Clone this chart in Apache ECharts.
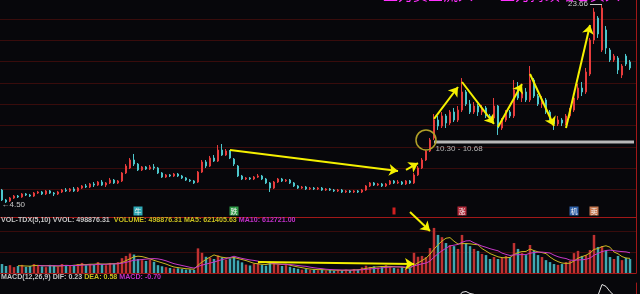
<!DOCTYPE html>
<html><head><meta charset="utf-8">
<script src="https://cdn.jsdelivr.net/npm/echarts@6/dist/echarts.min.js"></script>
<style>html,body{margin:0;padding:0;background:#07070b;overflow:hidden}#c{width:640px;height:294px}</style>
</head><body><div id="c"></div>
<script>
// ---- data ----
const categories = Array.from({length: 159}, (_, i) => 'D' + (i + 1));
// [open, close, low, high]
const candles = [
[5.75,4.79,4.69,5.85],[4.79,4.60,4.50,4.89],[4.69,4.98,4.60,5.08],[4.98,5.17,4.89,5.27],[5.17,5.08,4.98,5.27],
[5.08,5.37,5.00,5.46],[5.37,5.27,5.17,5.46],[5.27,5.17,5.08,5.37],[5.17,5.46,5.08,5.56],[5.46,5.56,5.37,5.66],
[5.56,5.37,5.27,5.66],[5.37,5.66,5.27,5.75],[5.66,5.46,5.37,5.75],[5.46,5.37,5.17,5.56],[5.37,5.56,5.27,5.66],
[5.56,5.75,5.46,5.85],[5.75,5.66,5.56,5.94],[5.66,5.85,5.56,5.94],[5.85,5.66,5.56,6.04],[5.66,5.94,5.56,6.04],
[5.94,6.14,5.85,6.23],[6.14,6.04,5.94,6.33],[6.04,6.33,5.94,6.43],[6.33,6.23,6.04,6.52],[6.23,6.52,6.14,6.62],
[6.52,6.23,6.14,6.71],[6.23,6.43,6.04,6.52],[6.43,6.71,6.33,6.91],[6.71,6.43,6.33,6.81],[6.43,6.62,6.33,6.71],
[6.62,7.39,6.52,7.48],[7.39,8.06,7.29,8.25],[7.87,8.64,7.77,8.83],[8.64,8.25,8.06,9.22],[8.25,7.68,7.58,8.35],
[7.68,7.97,7.58,8.06],[7.97,7.77,7.68,8.06],[7.77,7.97,7.68,8.16],[7.97,7.87,7.68,8.25],[7.87,7.39,7.29,7.97],
[7.39,7.00,6.91,7.48],[7.00,7.20,6.91,7.29],[7.20,7.10,7.00,7.29],[7.10,7.29,7.00,7.39],[7.29,7.10,7.00,7.39],
[7.10,6.91,6.81,7.20],[6.91,6.71,6.62,7.00],[6.71,6.62,6.52,6.81],[6.62,6.43,6.33,6.71],[6.52,7.48,6.43,7.58],
[7.48,8.45,7.39,8.64],[8.45,8.06,7.87,8.64],[8.06,8.83,7.97,9.03],[8.83,8.54,8.45,9.12],[8.54,9.60,8.45,10.08],
[9.60,9.12,9.03,10.18],[9.12,9.51,9.03,9.70],[9.51,8.83,8.73,9.60],[8.73,8.25,8.06,8.83],[8.06,7.10,7.00,8.16],
[7.10,6.81,6.71,7.20],[6.81,6.91,6.71,7.00],[6.91,6.81,6.71,7.00],[6.81,7.00,6.71,7.10],[7.00,7.10,6.91,7.29],
[7.10,6.81,6.71,7.20],[6.81,6.43,6.33,6.91],[6.43,5.94,5.56,6.52],[5.94,6.52,5.85,6.62],[6.52,6.81,6.43,6.91],
[6.81,6.62,6.52,6.91],[6.62,6.71,6.52,6.81],[6.71,6.43,6.33,6.81],[6.43,6.14,6.04,6.52],[6.14,5.94,5.85,6.23],
[5.94,6.04,5.85,6.14],[6.04,5.85,5.75,6.14],[5.85,5.94,5.75,6.04],[5.94,5.85,5.75,6.04],[5.85,5.94,5.75,6.04],
[5.94,5.75,5.66,6.04],[5.75,5.85,5.66,5.94],[5.85,5.75,5.66,5.94],[5.75,5.66,5.56,5.85],[5.66,5.75,5.56,5.85],
[5.75,5.56,5.46,5.85],[5.56,5.66,5.46,5.75],[5.66,5.56,5.46,5.75],[5.56,5.66,5.46,5.75],[5.66,5.56,5.46,5.75],
[5.56,5.75,5.46,5.85],[5.75,6.14,5.66,6.23],[6.14,6.43,6.04,6.52],[6.43,6.23,6.14,6.52],[6.23,6.33,6.14,6.43],
[6.33,6.14,6.04,6.43],[6.14,6.33,6.04,6.43],[6.33,6.62,6.23,6.71],[6.62,6.43,6.33,6.71],[6.43,6.52,6.33,6.71],
[6.52,6.33,6.23,6.62],[6.33,6.62,6.23,6.71],[6.62,6.43,6.33,6.71],[6.43,7.20,6.33,7.39],[7.20,7.87,7.10,8.06],
[7.87,8.64,7.77,8.83],[8.64,9.51,8.54,9.60],[9.51,10.57,9.41,10.76],[10.76,12.49,10.57,13.07],[12.49,11.91,11.53,12.88],
[11.91,12.88,11.72,13.26],[12.88,12.20,11.72,13.07],[12.20,13.26,12.01,13.45],[13.26,12.49,12.30,13.65],[12.49,13.45,12.30,13.84],
[13.45,15.19,13.26,16.53],[15.19,14.03,13.84,15.38],[14.03,13.26,13.07,14.42],[13.26,13.84,13.07,14.22],[13.84,13.26,12.88,14.03],
[13.26,13.65,12.97,13.94],[13.65,12.88,12.68,13.84],[12.88,12.49,12.30,13.07],[12.68,13.84,12.49,14.61],[13.84,11.72,11.05,13.94],
[11.72,12.49,11.53,12.68],[12.49,13.26,12.30,13.45],[13.26,12.88,12.68,13.45],[12.88,15.38,12.68,16.34],[15.38,14.61,14.42,16.15],
[14.61,15.19,14.22,15.76],[15.19,14.42,14.22,15.57],[14.42,16.34,14.22,17.69],[16.34,14.80,14.61,16.53],[14.80,14.03,13.84,15.00],
[14.03,14.42,13.65,14.80],[14.42,13.26,13.07,14.61],[13.26,12.49,12.30,13.45],[12.49,12.11,11.53,12.68],[12.11,12.49,11.91,12.88],
[12.49,12.20,11.91,12.68],[12.20,12.88,12.01,13.07],[12.88,13.45,12.68,13.65],[13.45,14.61,13.26,14.80],[14.61,15.57,14.42,15.96],
[15.57,15.19,14.80,16.15],[15.19,17.11,15.00,17.50],[16.92,20.19,16.73,20.39],[20.19,22.89,19.81,23.27],[22.31,20.77,20.39,22.50],
[19.23,23.27,19.04,23.66],[21.16,19.42,18.85,21.54],[19.23,18.27,18.08,19.42],[18.27,18.65,18.08,18.85],[18.46,17.31,16.92,18.65],
[16.82,17.69,16.53,17.88],[18.65,17.88,17.69,18.85],[18.08,17.50,17.31,18.27]
];
// volume in 10k shares
const volumes = [
32,25,28,21,25,29,22,25,32,28,24,21,29,26,22,32,28,25,29,32,36,28,32,29,39,32,28,36,32,39,
53,61,70,66,
50,46,43,47,40,
28,24,21,18,16,17,14,12,13,11,
88,72,58,55,50,63,56,48,52,57,
45,38,30,27,33,36,29,26,40,34,30,25,28,22,
18,15,12,14,11,13,10,12,9,11,8,10,9,12,10,14,12,20,26,22,24,19,25,28,22,18,16,21,14,17,
72,58,61,57,89,
161,136,128,107,100,96,86,136,107,96,86,79,68,64,50,57,50,54,61,57,107,86,71,64,100,79,64,57,46,39,
32,29,32,39,43,71,79,61,64,82,136,93,96,79,57,50,61,46,54,49.89
];
const priceMarks = { high: 23.66, low: 4.50, bandLow: 10.30, bandHigh: 10.68 };
const volLegend = { vvol: '498876.31', volume: '498876.31', ma5: '621405.63', ma10: '612721.00' };
const macdLegend = { dif: '0.23', dea: '0.58', macd: '-0.70' };
const headline = ['主力资金流入', '主力持续增仓买入'];
const eventIcons = [
  {i: 33.5, text: '牛', color: '#2ea8b6'},
  {i: 58.25, text: '跌', color: '#2f9c48'},
  {i: 115, text: '涨', color: '#b22a3a'},
  {i: 142.5, text: '机', color: '#3062aa'},
  {i: 147.75, text: '卖', color: '#c87a52'}
];

// ---- derived ----
const UP = '#e83c3c', DOWN = '#4cc6cc', RED = '#a01818', GRIDC = '#380c0c';
const volData = volumes.map((v, i) => ({value: v, itemStyle: {color: candles[i][1] >= candles[i][0] ? '#c03232' : '#3fa8b2'}}));
function ma(arr, n) { return arr.map((v, i) => i < n - 1 ? null : +(arr.slice(i - n + 1, i + 1).reduce((a, b) => a + b, 0) / n).toFixed(2)); }
function ema(arr, n) { const k = 2 / (n + 1); let p = arr[0]; return arr.map((v, i) => (p = i === 0 ? v : v * k + p * (1 - k))); }
const closes = candles.map(c => c[1]);
const e12 = ema(closes, 12), e26 = ema(closes, 26);
const dif = e12.map((v, i) => v - e26[i]);
const dea = ema(dif, 9);
const dmax = Math.max(...dif);
const d2 = Math.max(...dif.slice(100, 130));
let R = Math.max((dmax - d2) * 50 / 7, dmax * 0.4);
const macdMax = dmax + R * 1.5 / 50, macdMin = macdMax - R;
const VOLPX = 200 / 56;              // volume units per pixel
const volMax = 68 * VOLPX;           // volume pane drawn from y=205 to 273

const FONT = 'Liberation Sans, Arial, sans-serif';
const FS = 7.1;
const arrow = (a, b) => [{coord: a, symbol: 'none'}, {coord: b, symbol: 'arrow'}];
const legendStyle = {fontSize: FS, fontFamily: FONT, rich: {
  a: {color: '#c4c4c4', fontSize: FS, fontFamily: FONT},
  b: {color: '#c8c020', fontSize: FS, fontFamily: FONT},
  c: {color: '#c030c8', fontSize: FS, fontFamily: FONT}}};

const chart = echarts.init(document.getElementById('c'), null, {renderer: 'canvas'});
chart.setOption({
  animation: false,
  backgroundColor: '#07070b',
  textStyle: {fontFamily: FONT},
  graphic: [
    {type: 'text', x: 383, y: 2, silent: true, style: {text: headline[0], fill: '#ff30ff', fontSize: 15, fontFamily: 'Noto Sans CJK SC', verticalAlign: 'bottom', align: 'left'}},
    {type: 'text', x: 500, y: 2, silent: true, style: {text: headline[1], fill: '#ff30ff', fontSize: 15, fontFamily: 'Noto Sans CJK SC', verticalAlign: 'bottom', align: 'left'}}
  ],
  title: [
    {left: 1, top: 217, padding: 0,
      text: '{a|VOL-TDX(5,10) VVOL: ' + volLegend.vvol + '}  {b|VOLUME: ' + volLegend.volume + ' MA5: ' + volLegend.ma5 + '} {c|MA10: ' + volLegend.ma10 + '}',
      textStyle: legendStyle},
    {left: 1, top: 273.5, padding: 0,
      text: '{a|MACD(12,26,9) DIF: ' + macdLegend.dif + '} {b|DEA: ' + macdLegend.dea + '} {c|MACD: ' + macdLegend.macd + '}',
      textStyle: legendStyle}
  ],
  grid: [
    {left: 0, width: 636, top: 0, height: 217, outerBoundsMode: 'none'},
    {left: 0, width: 636, top: 205, height: 68, outerBoundsMode: 'none'},
    {left: 0, width: 636, top: 283, height: 50, outerBoundsMode: 'none'},
    {left: 0, width: 636, top: -2.3, height: 202.35, outerBoundsMode: 'none'},
    {left: 0, width: 636, top: 231, height: 42, outerBoundsMode: 'none'}
  ],
  xAxis: [
    {type: 'category', gridIndex: 0, data: categories, boundaryGap: true, axisLine: {show: true, lineStyle: {color: RED}}, axisTick: {show: false}, axisLabel: {show: false}, splitLine: {show: false}},
    {type: 'category', gridIndex: 1, data: categories, boundaryGap: true, axisLine: {show: true, lineStyle: {color: RED}}, axisTick: {show: false}, axisLabel: {show: false}, splitLine: {show: false}},
    {type: 'category', gridIndex: 2, data: categories, boundaryGap: true, axisLine: {show: false, onZero: false}, axisTick: {show: false}, axisLabel: {show: false}, splitLine: {show: false}},
    {type: 'value', gridIndex: 3, min: 0, max: 1, axisLine: {show: false}, axisTick: {show: false}, axisLabel: {show: false}, splitLine: {show: false}},
    {type: 'value', gridIndex: 4, min: 0, max: 1, axisLine: {show: false}, axisTick: {show: false}, axisLabel: {show: false}, splitLine: {show: false}}
  ],
  yAxis: [
    {type: 'value', gridIndex: 0, min: 3.152, max: 24.045, position: 'right', axisLine: {show: true, lineStyle: {color: RED}}, axisTick: {show: false}, axisLabel: {show: false}, splitLine: {show: false}},
    {type: 'value', gridIndex: 1, min: 0, max: volMax, position: 'right', axisLine: {show: true, lineStyle: {color: RED}}, axisTick: {show: false}, axisLabel: {show: false}, splitLine: {show: false}},
    {type: 'value', gridIndex: 2, min: macdMin, max: macdMax, position: 'right', axisLine: {show: true, lineStyle: {color: RED}}, axisTick: {show: false}, axisLabel: {show: false}, splitLine: {show: false}},
    {type: 'value', gridIndex: 3, min: 0, max: 9.5, interval: 1, inverse: true, axisLine: {show: false}, axisTick: {show: false}, axisLabel: {show: false}, splitLine: {show: true, showMaxLine: false, lineStyle: {color: GRIDC, width: 1}}},
    {type: 'value', gridIndex: 4, min: 0, max: 2, interval: 1, axisLine: {show: false}, axisTick: {show: false}, axisLabel: {show: false}, splitLine: {show: true, showMinLine: false, lineStyle: {color: GRIDC, width: 1}}}
  ],
  series: [
    {
      type: 'candlestick', xAxisIndex: 0, yAxisIndex: 0, data: candles, barWidth: 2.4,
      itemStyle: {color: '#07070b', color0: DOWN, borderColor: UP, borderColor0: DOWN, borderWidth: 1},
      markArea: {silent: true, itemStyle: {color: '#b8b8b8'}, label: {show: false},
        data: [[{coord: [107.5, 10.52]}, {coord: [158.5, 10.22]}]]},
      markLine: {silent: true, symbol: ['none', 'arrow'], symbolSize: 9, precision: 4,
        label: {show: false}, lineStyle: {color: '#f4f000', width: 2, type: 'solid'},
        data: [
          arrow([56.5, 9.60], [99, 7.58]),
          arrow([101, 7.68], [104, 8.35]),
          arrow([107.75, 12.59], [113.75, 15.67]),
          arrow([114.5, 16.15], [122.75, 12.11]),
          arrow([124, 11.82], [129.5, 15.96]),
          arrow([131.75, 16.92], [138.25, 11.91]),
          arrow([140.75, 11.72], [147.25, 21.64]),
          [{coord: [107.5, 10.64], symbol: 'none', lineStyle: {color: '#c8c040', width: 1.5}}, {coord: [158.5, 10.64], symbol: 'none'}],
          [{coord: [147, priceMarks.high], symbol: 'none', lineStyle: {color: '#c8c8c8', width: 1},
            label: {show: true, position: 'start', distance: 2, formatter: priceMarks.high.toFixed(2), color: '#c8c8c8', fontSize: 8, fontFamily: FONT}},
           {coord: [150, priceMarks.high], symbol: 'none'}]
        ]},
      markPoint: {silent: true, animation: false,
        data: [
          {coord: [106.25, 10.57], symbol: 'circle', symbolSize: 20, itemStyle: {color: 'rgba(0,0,0,0)', borderColor: '#b0a028', borderWidth: 1.5}, label: {show: false}},
          {coord: [1, priceMarks.low], symbol: 'circle', symbolSize: 1, itemStyle: {color: 'rgba(0,0,0,0)'},
            label: {show: true, position: [-4, -2], formatter: '←' + priceMarks.low.toFixed(2), color: '#c8c8c8', fontSize: 8, fontFamily: FONT}},
          {coord: [107.75, 9.70], symbol: 'circle', symbolSize: 1, itemStyle: {color: 'rgba(0,0,0,0)'},
            label: {show: true, position: 'right', distance: 1, formatter: priceMarks.bandLow.toFixed(2) + ' - ' + priceMarks.bandHigh.toFixed(2), color: '#b4b4b4', fontSize: 8, fontFamily: FONT}},
          {coord: [98, 3.73], symbol: 'rect', symbolSize: [3, 7], itemStyle: {color: '#d02020'}, label: {show: false}}
        ].concat(eventIcons.map(e => ({coord: [e.i, 3.73], symbol: 'rect', symbolSize: [9, 9], itemStyle: {color: e.color},
            label: {show: true, position: 'inside', formatter: e.text, color: '#f0f0f0', fontSize: 7, fontFamily: 'Noto Sans CJK SC'}})))
      }
    },
    {
      type: 'bar', xAxisIndex: 1, yAxisIndex: 1, data: volData, barWidth: 2.5,
      markLine: {silent: true, symbol: ['none', 'arrow'], symbolSize: 9, label: {show: false},
        lineStyle: {color: '#f4f000', width: 2, type: 'solid'},
        data: [arrow([64, 11 * VOLPX], [103.25, 9 * VOLPX]), arrow([101.5, 61 * VOLPX], [107, 42 * VOLPX])]}
    },
    {type: 'line', xAxisIndex: 1, yAxisIndex: 1, data: ma(volumes, 5), symbol: 'none', lineStyle: {color: '#c8b820', width: 1}},
    {type: 'line', xAxisIndex: 1, yAxisIndex: 1, data: ma(volumes, 10), symbol: 'none', lineStyle: {color: '#c838c8', width: 1}},
    {type: 'line', xAxisIndex: 2, yAxisIndex: 2, data: dif, symbol: 'none', lineStyle: {color: '#e8e8e8', width: 1}},
    {type: 'line', xAxisIndex: 2, yAxisIndex: 2, data: dea, symbol: 'none', lineStyle: {color: '#d8c800', width: 1}}
  ]
});
</script></body></html>
